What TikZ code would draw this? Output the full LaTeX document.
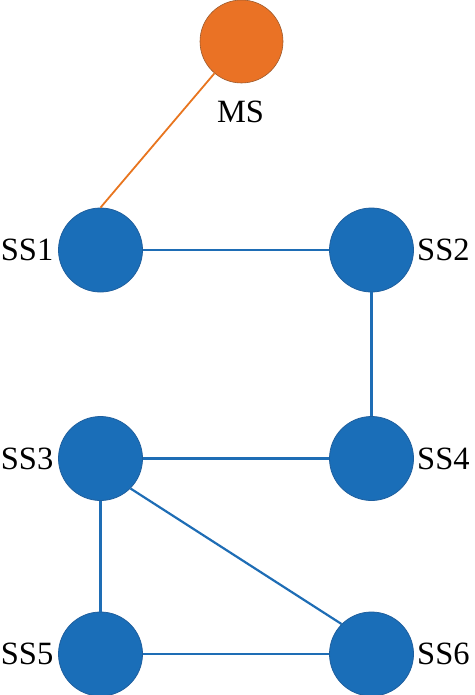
\documentclass[tikz,border=0pt]{standalone}
\usepackage{fontspec}
\setmainfont{Liberation Serif}
\definecolor{bfill}{HTML}{1A6EB8}
\definecolor{bline}{HTML}{1F5F9E}
\definecolor{bedge}{HTML}{1E6DB5}
\definecolor{ofill}{HTML}{EA7225}
\definecolor{oline}{HTML}{9C5A2C}
\definecolor{oedge}{HTML}{E8751F}
\begin{document}
\begin{tikzpicture}[x=1pt,y=-1pt,
  lbl/.style={font=\fontsize{32.5}{33}\selectfont,inner sep=0pt,text=black},
  ssnode/.style={circle,fill=bfill,draw=bline,line width=0.8pt,minimum size=84pt,inner sep=0pt},
  msnode/.style={circle,fill=ofill,draw=oline,line width=0.6pt,minimum size=83pt,inner sep=0pt},
  bluelink/.style={draw=bedge,line width=2.2pt},
  orangelink/.style={draw=oedge,line width=1.8pt}]
\useasboundingbox (0,0) rectangle (474,695);
\node[msnode] (MS) at (241.5,41.5) {};
\node[ssnode] (SS1) at (100.5,250) {};
\node[ssnode] (SS2) at (371.5,250) {};
\node[ssnode] (SS3) at (100.5,458.5) {};
\node[ssnode] (SS4) at (371.5,458.5) {};
\node[ssnode] (SS5) at (100.5,654) {};
\node[ssnode] (SS6) at (371.5,654) {};
\node[lbl,anchor=north] (lMS) at (240.5,100.5) {MS};
\node[lbl,anchor=east] (l1) at (53.5,250) {SS1};
\node[lbl,anchor=west] (l2) at (417,250) {SS2};
\node[lbl,anchor=east] (l3) at (53.5,458.5) {SS3};
\node[lbl,anchor=west] (l4) at (417,458.5) {SS4};
\node[lbl,anchor=east] (l5) at (53.5,654) {SS5};
\node[lbl,anchor=west] (l6) at (417,654) {SS6};
\draw[orangelink] (MS) -- (SS1.north);
\draw[bluelink] (SS1) -- (SS2);
\draw[bluelink] (SS2) -- (SS4);
\draw[bluelink] (SS3) -- (SS4);
\draw[bluelink] (SS3) -- (SS5);
\draw[bluelink] (SS3.south east) -- (SS6.north west);
\draw[bluelink] (SS5) -- (SS6);
\end{tikzpicture}
\end{document}
